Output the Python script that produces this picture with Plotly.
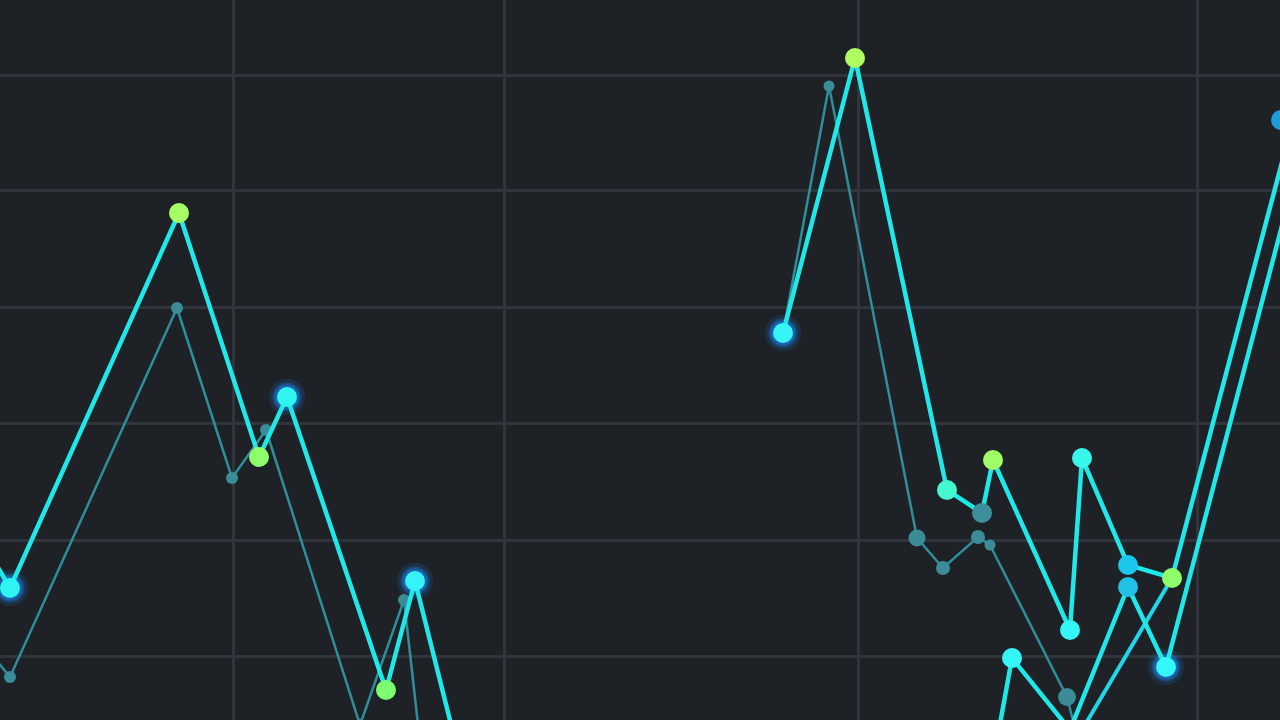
import plotly.graph_objects as go

# ---- data (in chart units) ----
left_bright_x = [-30, 10, 179, 259, 287, 386, 415, 470]
left_bright_y = [520, 588, 213, 457, 397, 690, 581, 800]
left_bright_c = ["#22e6e6", "#30f4f4", "#a6ff66", "#8cff6a", "#30f6f0", "#7cff72", "#36f2fa", "#22e6e6"]
left_bright_g = [0, 1, 0, 0, 1, 0, 1, 0]

left_dim_x = [-20, 10, 177, 232, 266, 360, 404, 422]
left_dim_y = [640, 677, 308, 478, 430, 725, 600, 760]

right_bright_x = [783, 855, 947, 982, 993, 1070, 1082, 1128, 1172, 1300]
right_bright_y = [333, 58, 490, 513, 460, 630, 458, 565, 578, 94]
right_bright_c = ["#36f4f8", "#b0ff60", "#44f8d0", "#3e8f9c", "#a0ff66", "#34f6f4", "#38f6ea", "#1cc6ec", "#8cff6a", "#22e6e6"]
right_bright_g = [1, 0, 0, 0, 0, 0, 0, 0, 0, 0]

right_dim_x = [783, 829, 917, 943, 978, 990, 1067, 1078]
right_dim_y = [333, 86, 538, 568, 537, 545, 697, 740]
right_dim_s = [12, 11, 17, 14, 14, 11, 18, 12]

low_x = [998, 1012, 1070, 1128, 1166, 1300]
low_y = [735, 658, 730, 587, 667, 157]
low_c = ["#22e6e6", "#34f6f6", "#22e6e6", "#22bfe6", "#34f8f8", "#22e6e6"]
low_g = [0, 0, 0, 0, 1, 0]

cross_x = [1082, 1172]
cross_y = [730, 578]

edge_x = [1281]
edge_y = [120]

grid_x = [233, 504, 858, 1197]
grid_y = [75, 190, 307, 423, 540, 656]

BG = "#1e2227"
BRIGHT = "#20e8e8"
DIM = "#2f8e99"
DIM_MK = "#3b8c97"

fig = go.Figure()


def glow_trace(xs, ys, flags):
    gx = [x for x, f in zip(xs, flags) if f]
    gy = [y for y, f in zip(ys, flags) if f]
    for size, alpha in ((36, 0.16), (29, 0.3), (25, 0.45)):
        fig.add_trace(go.Scatter(x=gx, y=gy, mode="markers",
                                 marker=dict(size=size, color=f"rgba(25,130,235,{alpha})",
                                             opacity=1, line=dict(width=0)),
                                 hoverinfo="skip", showlegend=False))


def dim_trace(xs, ys, sizes=12):
    fig.add_trace(go.Scatter(x=xs, y=ys, mode="lines+markers",
                             line=dict(color=DIM, width=2.5),
                             marker=dict(size=sizes, color=DIM_MK, opacity=1, line=dict(width=0)),
                             hoverinfo="skip", showlegend=False))


def bright_trace(xs, ys, cols):
    fig.add_trace(go.Scatter(x=xs, y=ys, mode="lines+markers",
                             line=dict(color=BRIGHT, width=4.5),
                             marker=dict(size=20, color=cols, opacity=1, line=dict(width=0)),
                             hoverinfo="skip", showlegend=False))


dim_trace(left_dim_x, left_dim_y)
dim_trace(right_dim_x, right_dim_y, right_dim_s)
fig.add_trace(go.Scatter(x=cross_x, y=cross_y, mode="lines",
                         line=dict(color="#22d6ea", width=4),
                         hoverinfo="skip", showlegend=False))
glow_trace(low_x, low_y, low_g)
bright_trace(low_x, low_y, low_c)
glow_trace(left_bright_x, left_bright_y, left_bright_g)
bright_trace(left_bright_x, left_bright_y, left_bright_c)
glow_trace(right_bright_x, right_bright_y, right_bright_g)
bright_trace(right_bright_x, right_bright_y, right_bright_c)
fig.add_trace(go.Scatter(x=edge_x, y=edge_y, mode="markers",
                         marker=dict(size=20, color="#1a9fd8", line=dict(width=0)),
                         hoverinfo="skip", showlegend=False))

axis_common = dict(showticklabels=False, zeroline=False, showline=False,
                   showgrid=True, gridcolor="#30353b", gridwidth=3, ticks="")
fig.update_xaxes(range=[0, 1280], tickvals=grid_x, **axis_common)
fig.update_yaxes(range=[720, 0], tickvals=grid_y, **axis_common)

fig.update_layout(width=1280, height=720, margin=dict(l=0, r=0, t=0, b=0),
                  paper_bgcolor=BG, plot_bgcolor=BG)

fig.write_html("out.html", config={"displayModeBar": False},
               post_script="document.body.style.margin='0';document.body.style.background='#1e2227';")
